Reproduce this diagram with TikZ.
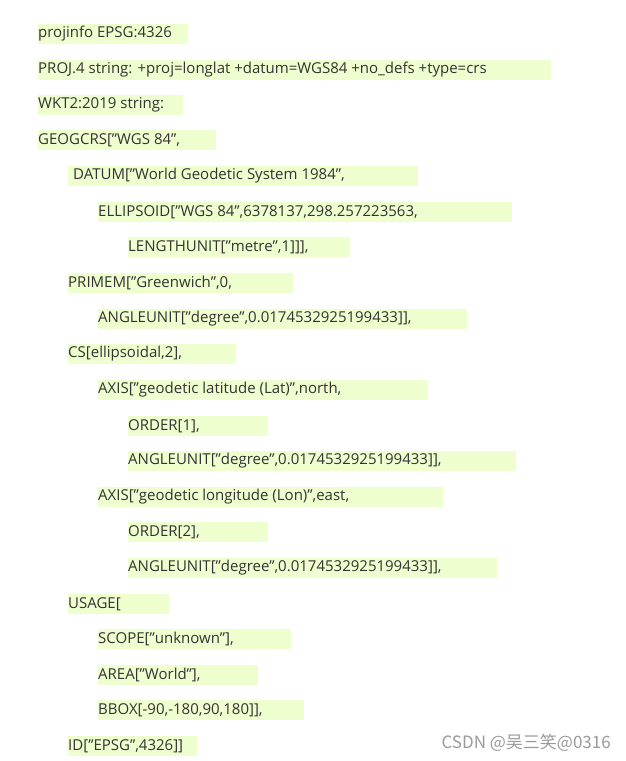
\documentclass[tikz,border=0pt]{standalone}
\usepackage{fontspec}
\setmainfont{Open Sans}
\newfontfamily\cjk{Noto Sans CJK SC}
\definecolor{hl}{HTML}{EFFECF}
\definecolor{tx}{HTML}{333333}
\definecolor{wm}{HTML}{9A9A9A}
\def\q{\symbol{34}}
\begin{document}
\begin{tikzpicture}[x=1pt,y=-1pt,
  ln/.style={anchor=west,inner sep=0pt,text=tx,font=\fontsize{15}{17}\selectfont}]
\useasboundingbox (0,0) rectangle (626,761);
\def\L#1#2#3#4#5{\fill[hl] (#2,#1-10) rectangle (#3,#1+10);
  \node[ln] (#4) at (#2,#1) {#5};}
\L{34}{38}{188}{l1}{projinfo EPSG:4326}
\L{70}{38}{551}{l2}{PROJ.4 string: +proj=longlat +datum=WGS84 +no\_defs +type=crs}
\L{105}{38}{183}{l3}{WKT2:2019 string:}
\L{140}{38}{216}{l4}{GEOGCRS[\q WGS 84\q,}
\L{176}{68}{418}{l5}{\hspace{5pt}DATUM[\q World Geodetic System 1984\q,}
\L{212}{98}{512}{l6}{ELLIPSOID[\q WGS 84\q,6378137,298.257223563,}
\L{247}{128}{350}{l7}{LENGTHUNIT[\q metre\q,1]]],}
\L{283}{68}{293}{l8}{PRIMEM[\q Greenwich\q,0,}
\L{319}{98}{467}{l9}{ANGLEUNIT[\q degree\q,0.0174532925199433]],}
\L{354}{68}{236}{l10}{CS[ellipsoidal,2],}
\L{390}{98}{428}{l11}{AXIS[\q geodetic latitude (Lat)\q,north,}
\L{426}{128}{268}{l12}{ORDER[1],}
\L{461}{128}{516}{l13}{ANGLEUNIT[\q degree\q,0.0174532925199433]],}
\L{497}{98}{443}{l14}{AXIS[\q geodetic longitude (Lon)\q,east,}
\L{532}{128}{268}{l15}{ORDER[2],}
\L{568}{128}{497}{l16}{ANGLEUNIT[\q degree\q,0.0174532925199433]],}
\L{604}{68}{169}{l17}{USAGE[}
\L{639}{98}{291}{l18}{SCOPE[\q unknown\q],}
\L{675}{98}{258}{l19}{AREA[\q World\q],}
\L{710}{98}{304}{l20}{BBOX[-90,-180,90,180]],}
\L{746}{68}{197}{l21}{ID[\q EPSG\q,4326]]}
\node[anchor=east,inner sep=0pt,text=wm,font=\cjk\fontsize{17}{19}\selectfont] (wm) at (611,743) {CSDN @吴三笑@0316};
\end{tikzpicture}
\end{document}
